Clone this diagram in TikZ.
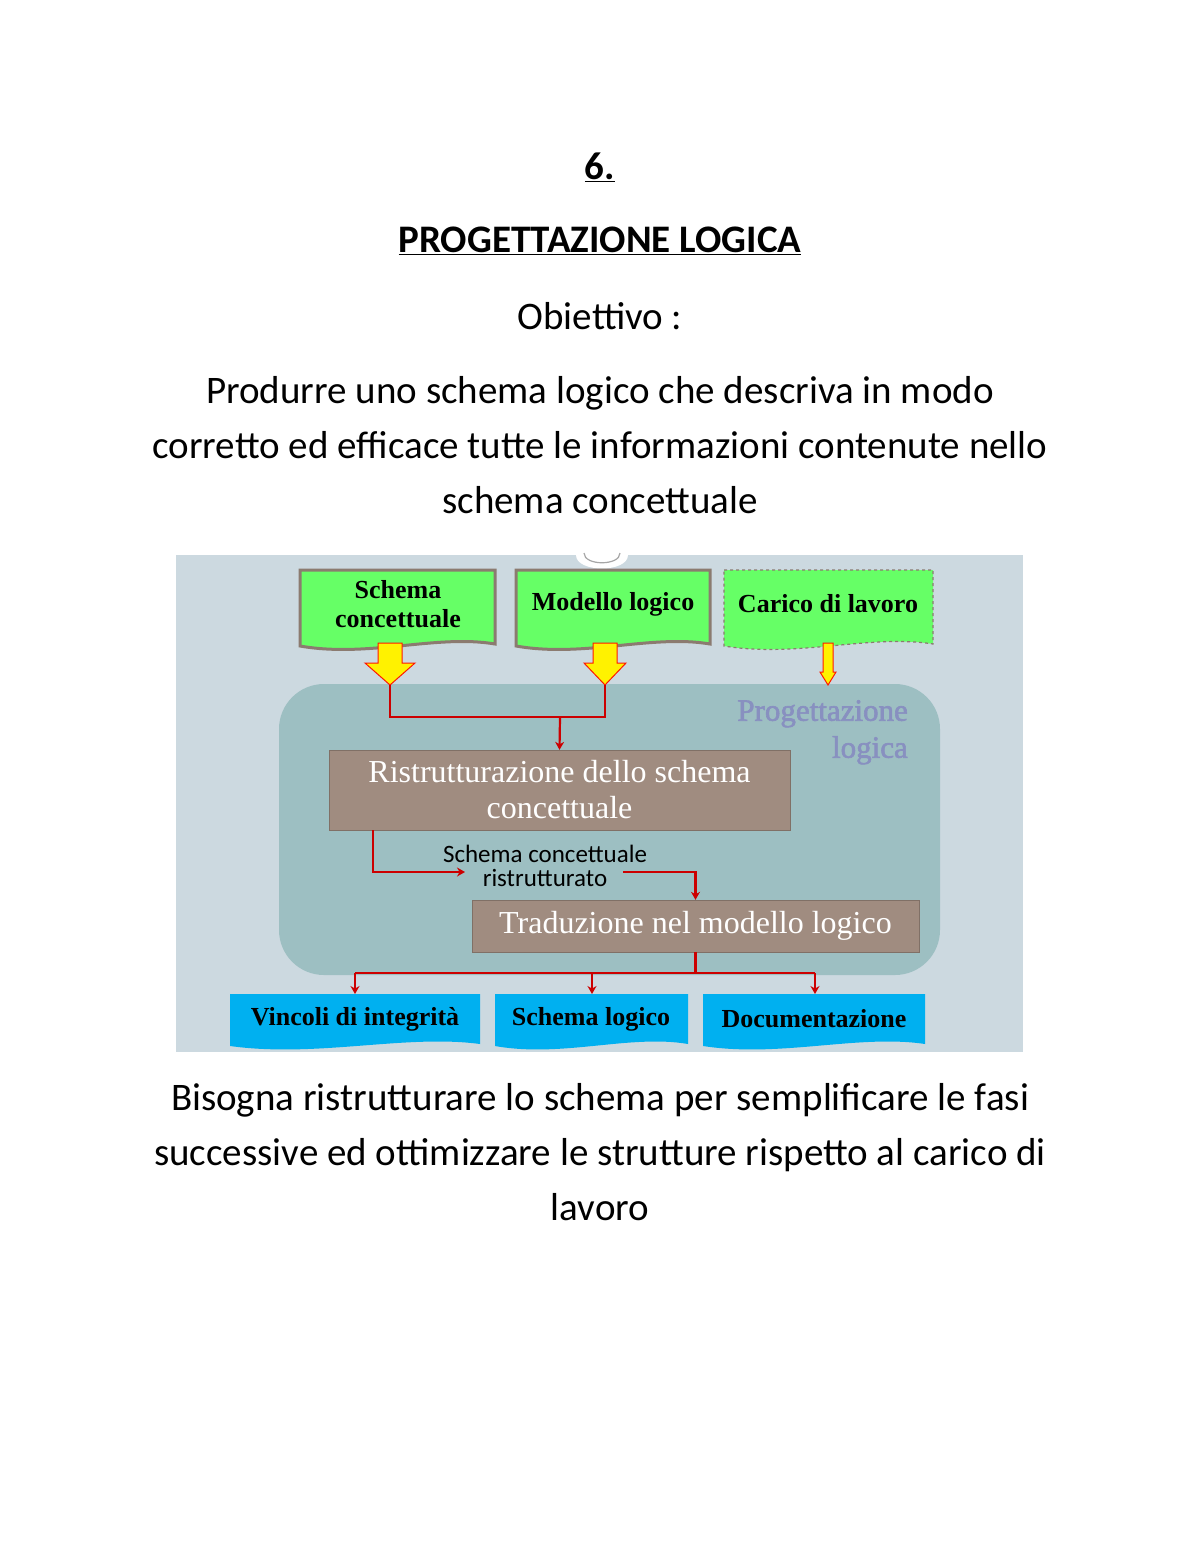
\documentclass[tikz,border=0pt]{standalone}
\usepackage{fontspec}
\setmainfont{Carlito}
\newfontfamily\dserif{Liberation Serif}
\newfontfamily\dserifbold[FakeBold=2]{Liberation Serif}
\usetikzlibrary{arrows.meta}
\definecolor{bgc}{HTML}{CCD9E0}
\definecolor{tealc}{HTML}{9DBFC2}
\definecolor{greenc}{HTML}{66FF66}
\definecolor{bluec}{HTML}{00B0F0}
\definecolor{brownc}{HTML}{A08C80}
\definecolor{edgec}{HTML}{8B7B70}
\definecolor{redc}{HTML}{CC0000}
\definecolor{lavc}{HTML}{8890C0}
\tikzset{
 ptext/.style={font=\fontsize{39}{55}\selectfont,align=center,text=black},
 dlabel/.style={font=\dserif\bfseries\fontsize{26}{29}\selectfont,align=center},
 procbox/.style={fill=brownc,draw=brownc!80!black,text=white,font=\dserif\fontsize{32}{36}\selectfont,align=center,inner sep=0pt},
 redline/.style={draw=redc,line width=2.2pt},
 redarrow/.style={redline,-{Stealth[length=8pt,width=9pt]}},
 yarrow/.style={fill=yellow,draw=red!80!orange,line width=1pt},
}
\newcommand{\docshape}[6]{% x1,y1,x2,y2,fill,style
 \path[fill=#5,#6] (#1,#2) -- (#3,#2) -- (#3,#4-6) .. controls ({#1+0.7*(#3-#1)},#4-16) and ({#1+0.35*(#3-#1)},#4+8) .. (#1,#4-4) -- cycle;}
\newcommand{\blockarrow}[6]{% x, ytop, ytip, shaft half, head half, head start
 \path[yarrow] (#1-#4,#2) -- (#1+#4,#2) -- (#1+#4,#6) -- (#1+#5,#6) -- (#1,#3) -- (#1-#5,#6) -- (#1-#4,#6) -- cycle;}
\begin{document}
\begin{tikzpicture}[x=1pt,y=-1pt]
\useasboundingbox[fill=white] (0,0) rectangle (1200,1553);
\node[ptext,font=\bfseries\fontsize{39}{55}\selectfont] (t1) at (600,167) {\underline{6.}};
\node[ptext,font=\bfseries\fontsize{39}{55}\selectfont] (t2) at (600,241) {\underline{PROGETTAZIONE LOGICA}};
\node[ptext] (t3) at (600,316) {Obiettivo :};
\node[ptext] (t4) at (600,445) {Produrre uno schema logico che descriva in modo\\corretto ed efficace tutte le informazioni contenute nello\\schema concettuale};
\node[ptext] (t5) at (600,1152) {Bisogna ristrutturare lo schema per semplificare le fasi\\successive ed ottimizzare le strutture rispetto al carico di\\lavoro};
% diagram background
\fill[bgc] (176,555) rectangle (1023,1052);
\fill[white] (576,555) .. controls (576,573) and (628,573) .. (628,555) -- cycle;
\draw[gray!70,line width=1.2pt] (584,553) .. controls (584,566) and (620,566) .. (620,553);
% big teal container
\fill[tealc,rounded corners=45pt] (279,684) rectangle (940,975);
\node[font=\dserifbold\fontsize{31}{37}\selectfont,text=lavc,align=right,anchor=north east,inner sep=0pt] (pl) at (908,700) {Progettazione\\logica};
% green docs
\docshape{300}{570}{495}{650}{greenc}{draw=edgec,line width=3pt}
\docshape{516}{570}{710}{650}{greenc}{draw=edgec,line width=3pt}
\docshape{724}{570}{933}{650}{greenc}{draw=edgec,line width=1.2pt,dashed}
\node[dlabel] (g1) at (398,604) {Schema\\concettuale};
\node[dlabel] (g2) at (613,604) {Modello logico};
\node[dlabel] (g3) at (828,604) {Carico di lavoro};
% yellow arrows
\blockarrow{390}{643}{685}{12}{25}{663}
\blockarrow{605}{643}{685}{12}{21}{663}
\blockarrow{828}{643}{685}{5}{8}{672}
\coordinate (y1) at (390,685);
\coordinate (y2) at (605,685);
% process boxes
\node[procbox,minimum width=461pt,minimum height=80pt] (r) at (559.5,790) {Ristrutturazione dello schema\\concettuale};
\node[procbox,minimum width=447pt,minimum height=52pt] (tr) at (695.5,926) {Traduzione nel modello logico};
\node[font=\fontsize{25}{24}\selectfont,align=center,inner sep=1pt] (sc) at (545,866) {Schema concettuale\\ristrutturato};
% red connectors
\coordinate (j1) at (560,717);
\draw[redline] (y1) |- (j1) -| (y2);
\draw[redarrow] (j1) -- (r.north);
\draw[redarrow] (373,830) |- (465,872);
\draw[redarrow] (623,872) -| (tr.north);
\coordinate (j2) at (tr.south |- 0,973);
\draw[redline] (tr.south) -- (j2);
\draw[redline] (355,973) -- (815,973);
\draw[redarrow] (355,973) -- (355,994);
\draw[redarrow] (592,973) -- (592,994);
\draw[redarrow] (815,973) -- (815,994);
% blue docs
\docshape{230}{994}{480}{1050}{bluec}{}
\docshape{495}{994}{688}{1050}{bluec}{}
\docshape{703}{994}{925}{1050}{bluec}{}
\node[dlabel] (b1) at (355,1019) {Vincoli di integrità};
\node[dlabel] (b2) at (591,1019) {Schema logico};
\node[dlabel] (b3) at (814,1019) {Documentazione};
\end{tikzpicture}
\end{document}
